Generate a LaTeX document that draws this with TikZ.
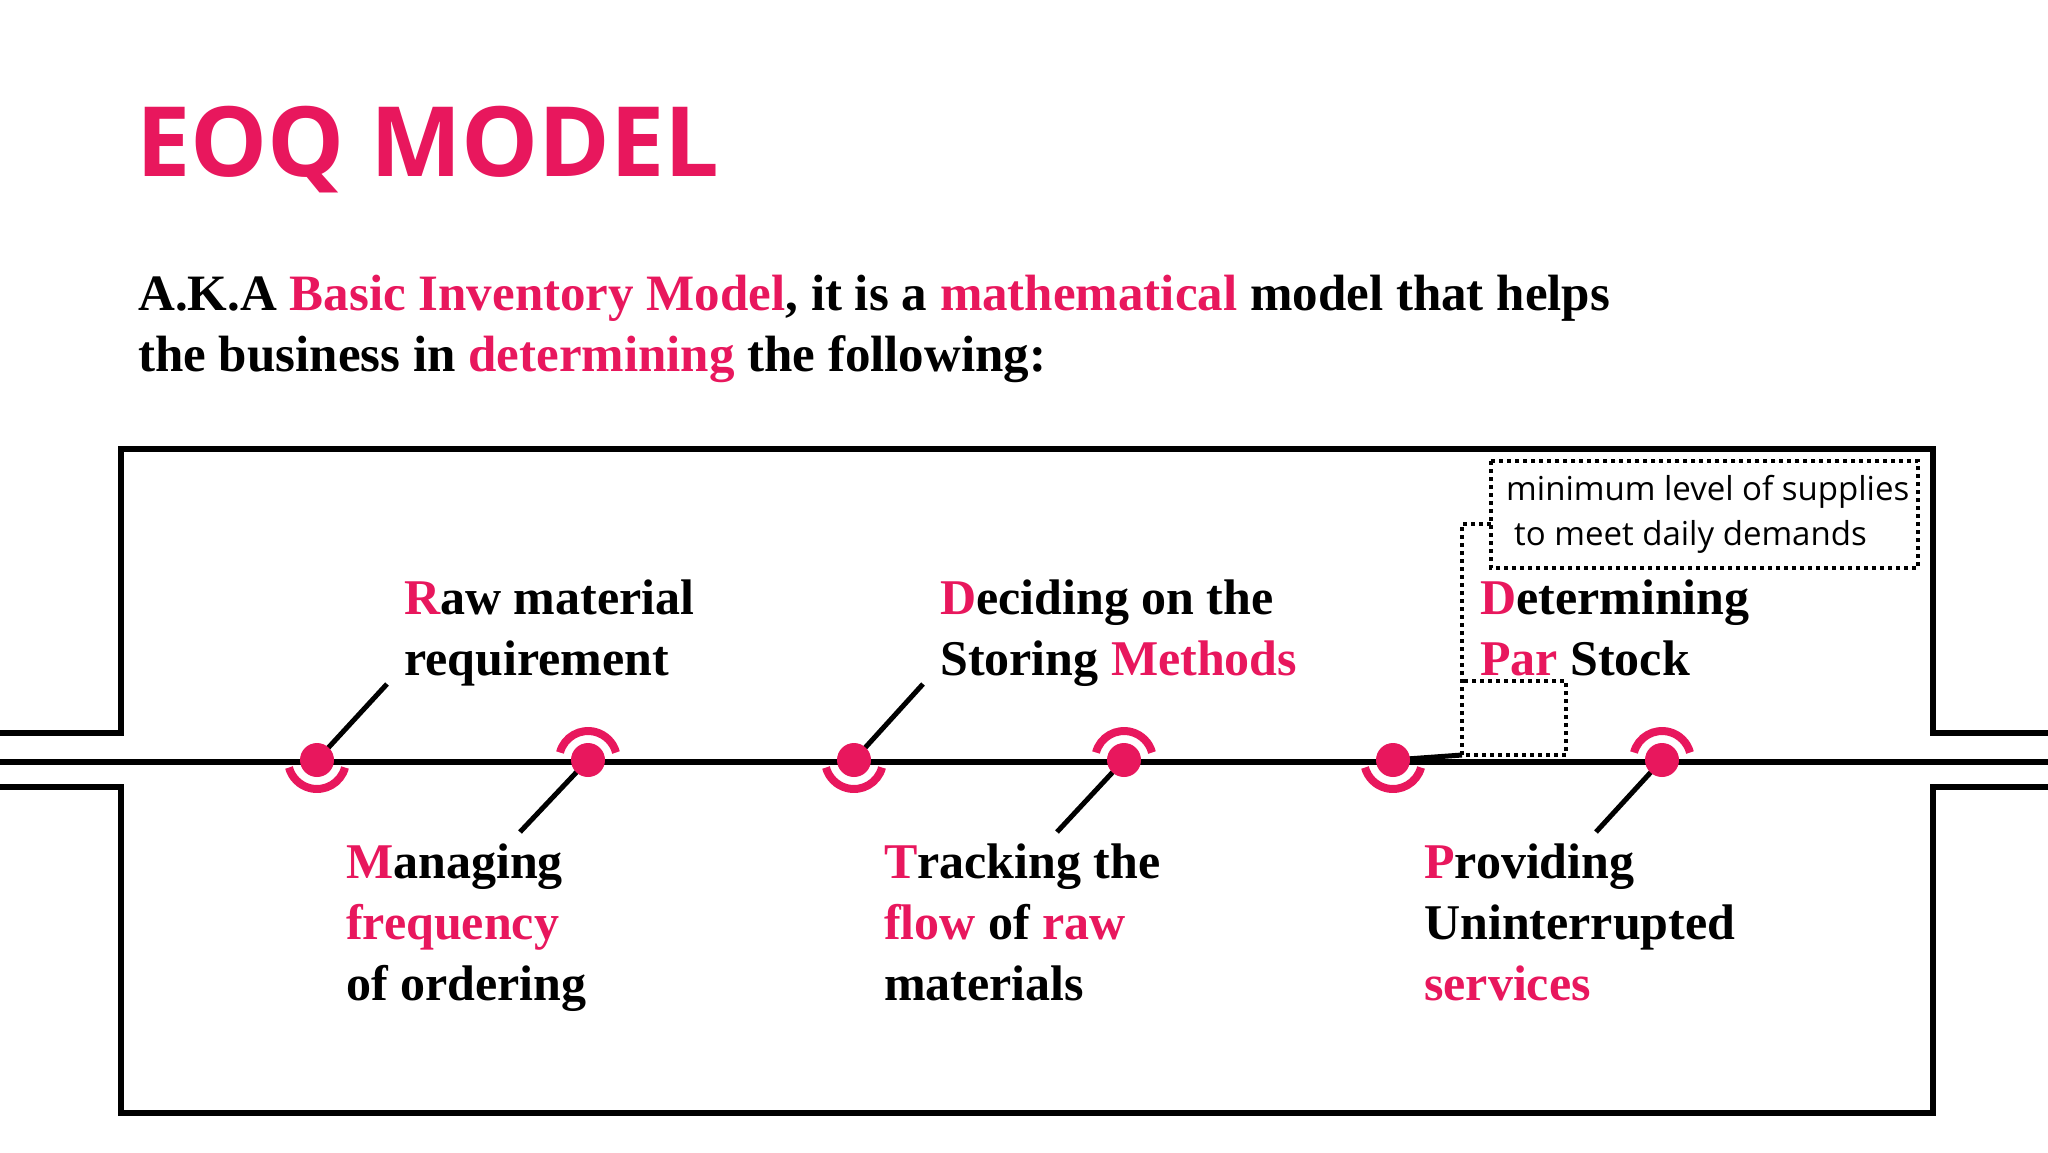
\documentclass[tikz,border=0pt]{standalone}
\usepackage{fontspec}
\setmainfont{Liberation Serif}
\newfontfamily\osans{Open Sans}
\definecolor{pk}{HTML}{E8175D}
\begin{document}
\begin{tikzpicture}[x=1pt,y=-1pt,
  ln/.style={line width=6pt,black},
  lead/.style={line width=5pt,black},
  dot/.style={circle,fill=pk,minimum size=34pt,inner sep=0pt},
  ring/.style={line width=8pt,pk},
  lab/.style={anchor=base west,align=left,inner sep=0pt,font=\fontsize{50}{61}\selectfont\bfseries},
  dsh/.style={line width=4pt,dash pattern=on 4pt off 4pt}]
\useasboundingbox (0,0) rectangle (2048,1152);
\node[anchor=base west,inner sep=0pt,text=pk,font=\osans\bfseries\fontsize{97}{120}\selectfont] (title) at (136,176) {EOQ MODEL};
\node[anchor=base west,inner sep=0pt,font=\fontsize{51}{61}\selectfont\bfseries] (sub1) at (138,310) {A.K.A \textcolor{pk}{Basic Inventory Model}, it is a \textcolor{pk}{mathematical} model that helps};
\node[anchor=base west,inner sep=0pt,font=\fontsize{51}{61}\selectfont\bfseries] (sub2) at (138,371) {the business in \textcolor{pk}{determining} the following:};
% frame
\draw[ln] (0,733) -- (121,733) -- (121,449) -- (1933,449) -- (1933,733) -- (2048,733);
\draw[ln] (0,787) -- (121,787) -- (121,1113) -- (1933,1113) -- (1933,787) -- (2048,787);
\draw[ln] (0,762) -- (2048,762);
% dots
\foreach \n/\x in {1/317,2/588,3/854,4/1124,5/1393,6/1662}{\coordinate (p\n) at (\x,760);}
\coordinate (e1) at (387,684); \coordinate (e2) at (520,832);
\coordinate (e3) at (923,684); \coordinate (e4) at (1057,832);
\coordinate (e5) at (1462,755); \coordinate (e6) at (1596,832);
\foreach \n in {1,...,6}{\draw[lead] (p\n) -- (e\n);}
\foreach \n in {1,3,5}{\draw[ring] ([shift={(15:29)}]p\n) arc (15:165:29);}
\foreach \n in {2,4,6}{\draw[ring] ([shift={(195:29)}]p\n) arc (195:345:29);}
\foreach \n in {1,...,6}{\node[dot] (d\n) at (p\n) {};}
% labels (anchor = baseline of last line)
\node[lab] (l1) at (404,675) {\textcolor{pk}{R}aw material\\requirement};
\node[lab] (l2) at (346,1000) {\textcolor{pk}{M}anaging\\\textcolor{pk}{frequency}\\of ordering};
\node[lab] (l3) at (940,675) {\textcolor{pk}{D}eciding on the\\Storing \textcolor{pk}{Methods}};
\node[lab] (l4) at (884,1000) {\textcolor{pk}{T}racking the\\\textcolor{pk}{flow} of \textcolor{pk}{raw}\\materials};
\node[lab] (l5) at (1480,675) {\textcolor{pk}{D}etermining\\\textcolor{pk}{Par} Stock};
\node[lab] (l6) at (1424,1000) {\textcolor{pk}{P}roviding\\Uninterrupted\\\textcolor{pk}{services}};
% dashed boxes
\draw[dsh] (1491,461) rectangle (1918,568);
\node[anchor=base west,inner sep=0pt,font=\osans\fontsize{33}{45}\selectfont] (n1) at (1506,500) {minimum level of supplies};
\node[anchor=base west,inner sep=0pt,font=\osans\fontsize{33}{45}\selectfont] (n2) at (1514,545) {to meet daily demands};
\draw[dsh] (1491,524) -- (1462,524) -- (1462,755) -- (1566,755) -- (1566,681) -- (1462,681);
\end{tikzpicture}
\end{document}
